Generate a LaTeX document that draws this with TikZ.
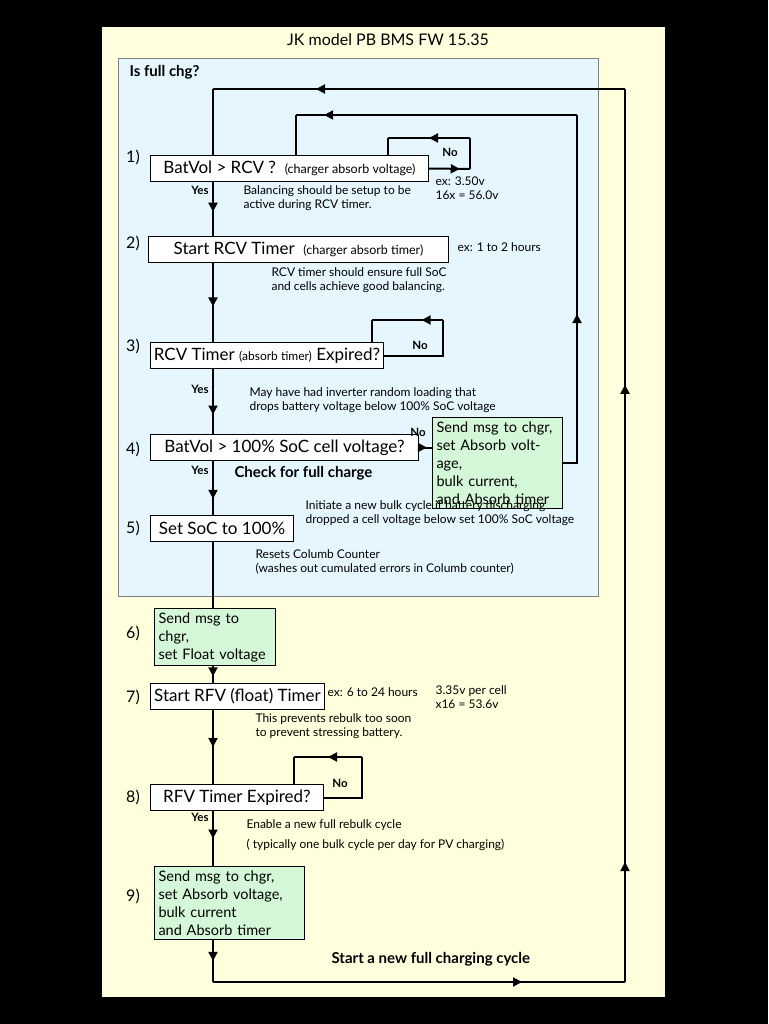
\documentclass[tikz,border=0pt]{standalone}
\usepackage{fontspec}
\setmainfont{Lato}
\usetikzlibrary{arrows.meta,decorations.markings}
\definecolor{panel}{RGB}{255,255,222}
\definecolor{sky}{RGB}{230,246,255}
\definecolor{mint}{RGB}{212,247,216}
\begin{document}
\begin{tikzpicture}[x=1pt,y=-1pt,
    stepbox/.style={draw,fill=white,line width=1pt,anchor=north west,inner sep=3pt,minimum height=26pt,font=\fontsize{17}{19}\selectfont},
    msg/.style={draw,fill=mint,line width=1pt,anchor=north west,align=left,inner sep=4pt,font=\fontsize{14.5}{18}\selectfont},
    note/.style={anchor=north west,align=left,font=\fontsize{12}{17}\selectfont},
    num/.style={font=\fontsize{16}{18}\selectfont},
    tag/.style={font=\bfseries\fontsize{11.5}{12}\selectfont},
    sub/.style={font=\fontsize{12.5}{14}\selectfont},
    flow/.style={line width=2pt},
    mid/.style={flow,postaction={decorate},decoration={markings,mark=at position #1 with {\arrow{Triangle[length=9pt,width=9pt]}}}},
    mid/.default=0.5]

    \fill (0,0) rectangle (768,1024);
    \fill[panel] (102,27) rectangle (665,997);
    \draw[fill=sky,line width=0.6pt,draw=gray] (118,58) rectangle (598,596);
    \useasboundingbox (0,0) rectangle (768,1024);

    \node[font=\fontsize{16}{18}\selectfont] (title) at (388,40) {JK model PB BMS FW 15.35};
    \node[anchor=west,font=\bfseries\fontsize{15}{17}\selectfont] (isfull) at (126,72) {Is full chg?};

    % steps
    \node[stepbox,minimum width=278pt] (b1) at (150,155) {BatVol > RCV ? \ {\fontsize{12.5}{14}\selectfont(charger absorb voltage)}};
    \node[stepbox,minimum width=300pt] (b2) at (148,236) {Start RCV Timer \ {\fontsize{12.5}{14}\selectfont(charger absorb timer)}};
    \node[stepbox,minimum width=233pt] (b3) at (150,342) {RCV Timer {\fontsize{12}{14}\selectfont(absorb timer)} Expired?};
    \node[stepbox,minimum width=268pt] (b4) at (150,434) {BatVol > 100\% SoC cell voltage?};
    \node[msg,text width=122pt] (g4) at (432,417) {Send msg to chgr,\\set Absorb voltage,\\bulk current,\\and Absorb timer};
    \node[stepbox,minimum width=143pt] (b5) at (150,515) {Set SoC to 100\%};
    \node[msg,text width=113pt] (g6) at (154,608) {Send msg to chgr,\\set Float voltage};
    \node[stepbox,minimum width=174pt] (b7) at (150,683) {Start RFV (float) Timer};
    \node[stepbox,minimum width=173pt] (b8) at (150,784) {RFV Timer Expired?};
    \node[msg,text width=142pt] (g9) at (154,866) {Send msg to chgr,\\set Absorb voltage,\\bulk current\\and Absorb timer};

    % step numbers
    \foreach \n/\y in {1/157,2/243,3/346,4/449,5/528,6/633,7/697,8/797,9/896}
      \node[num] (n\n) at (133,\y) {\n)};

    % notes
    \node[note] (t1) at (240,182) {Balancing should be setup to be\\[-3pt]active during RCV timer.};
    \node[note] (t1x) at (432,173) {ex: 3.50v\\[-3pt]16x = 56.0v};
    \node[note] (t2x) at (454,239) {ex: 1 to 2 hours};
    \node[note] (t2) at (268,264) {RCV timer should ensure full SoC\\[-3pt]and cells achieve good balancing.};
    \node[note] (t3) at (246,384) {May have had inverter random loading that\\[-3pt]drops battery voltage below 100\% SoC voltage};
    \node[anchor=west,font=\bfseries\fontsize{15}{17}\selectfont] (chk) at (231,473) {Check for full charge};
    \node[note] (t4) at (302,497) {Initiate a new bulk cycle if battery discharging\\[-3pt]dropped a cell voltage below set 100\% SoC voltage};
    \node[note] (t5) at (252,546) {Resets Columb Counter\\[-3pt](washes out cumulated errors in Columb counter)};
    \node[note] (t7x) at (324,684) {ex: 6 to 24 hours};
    \node[note] (t7v) at (432,682) {3.35v per cell\\[-3pt]x16 = 53.6v};
    \node[note] (t7) at (252,710) {This prevents rebulk too soon\\[-3pt]to prevent stressing battery.};
    \node[note] (t8) at (243,816) {Enable a new full rebulk cycle\\[3pt]( typically one bulk cycle per day for PV charging)};
    \node[anchor=west,font=\bfseries\fontsize{15}{17}\selectfont] (restart) at (328,959) {Start a new full charging cycle};

    % yes / no tags
    \foreach \y/\nm in {190/y1,389/y3,470/y4,817/y8}
      \node[tag] (\nm) at (200,\y) {Yes};
    \node[tag] (no1) at (450,152) {No};
    \node[tag] (no3) at (420,345) {No};
    \node[tag] (no4) at (418,432) {No};
    \node[tag] (no8) at (340,783) {No};

    % main line
    \coordinate (top) at (213,89);
    \coordinate (bot) at (213,982);
    \coordinate (far) at (625,89);
    \coordinate (farb) at (625,982);
    \coordinate (inner) at (577,115);
    \coordinate (innerl) at (296,115);
    \draw[flow] (top) -- (b1.north -| top);
    \draw[mid=0.55] (b1.south -| top) -- (b2.north -| top);
    \draw[mid=0.55] (b2.south -| top) -- (b3.north -| top);
    \draw[mid=0.7] (b3.south -| top) -- (b4.north -| top);
    \draw[mid=0.7] (b4.south -| top) -- (b5.north -| top);
    \draw[flow] (b5.south -| top) -- (g6.north -| top);
    \draw[mid=0.6] (g6.south -| top) -- (b7.north -| top);
    \draw[mid=0.5] (b7.south -| top) -- (b8.north -| top);
    \draw[mid=0.5] (b8.south -| top) -- (g9.north -| top);
    \draw[mid=0.5] (g9.south -| top) -- (bot);

    % big return loop
    \draw[mid=0.75] (bot) -- (farb);
    \draw[mid=0.3] (farb) -- ++(0,-400);
    \draw[mid=0.4] (farb) ++(0,-400) -- (far);
    \draw[mid=0.75] (far) -- (top);

    % re-bulk loop
    \draw[mid=0.45] (g4.east) -| (inner);
    \draw[mid=0.9] (inner) -- (innerl);
    \draw[flow] (innerl) -- (b1.north -| innerl);

    % wait loops
    \draw[flow] (470,169) -- (470,138);
    \draw[mid=0.75] (b1.east) -- (470,169);
    \draw[mid=0.5] (470,138) -- (388,138);
    \draw[flow] (388,138) -- (b1.north -| 388,0);
    \draw[flow] (b3.east) -| (443,320);
    \draw[mid=0.3] (443,320) -- (372,320);
    \draw[flow] (372,320) -- (b3.north -| 372,0);
    \draw[mid=0.6] (b4.east) -- (g4.west |- b4.east);
    \draw[flow] (b8.east) -| (362,757);
    \draw[mid=0.5] (362,757) -- (294,757);
    \draw[flow] (294,757) -- (b8.north -| 294,0);
\end{tikzpicture}
\end{document}
